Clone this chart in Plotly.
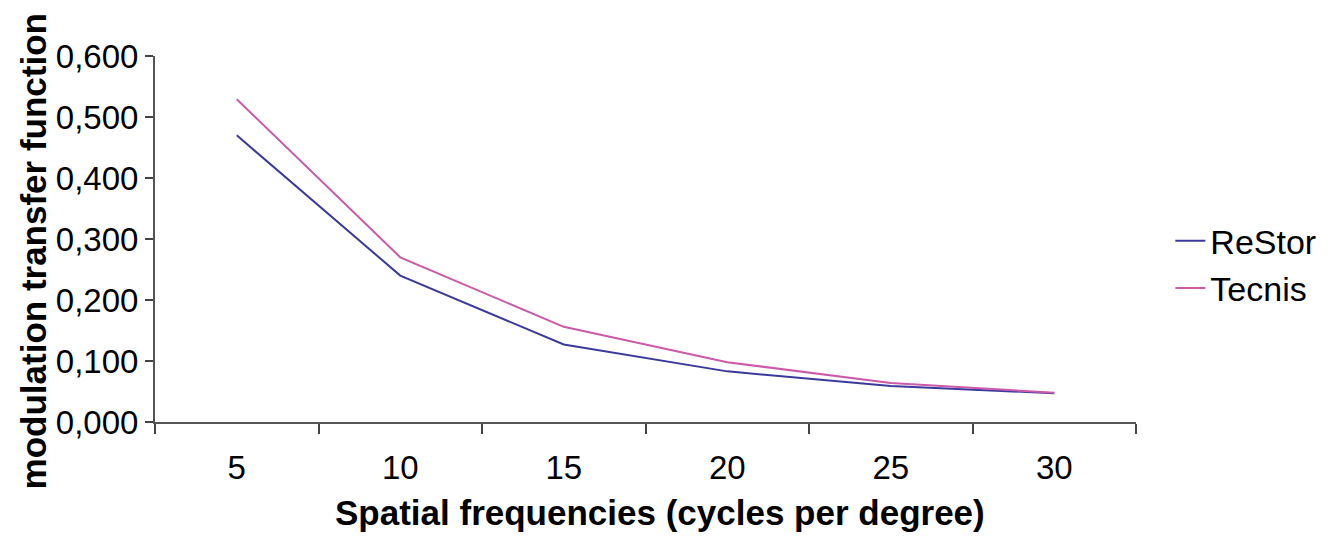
import plotly.graph_objects as go

# spatial frequencies (cycles per degree)
frequencies = ["5", "10", "15", "20", "25", "30"]

# modulation transfer function values
restor = [0.470, 0.240, 0.127, 0.083, 0.059, 0.047]
tecnis = [0.529, 0.270, 0.156, 0.098, 0.064, 0.048]

y_ticks = [0.0, 0.1, 0.2, 0.3, 0.4, 0.5, 0.6]

fig = go.Figure()
fig.add_trace(go.Scatter(x=frequencies, y=restor, name="ReStor", mode="lines",
                         line=dict(color="#3a3a9e", width=2)))
fig.add_trace(go.Scatter(x=frequencies, y=tecnis, name="Tecnis", mode="lines",
                         line=dict(color="#cc5aa8", width=2)))

# page body has an 8px margin, so margins are shifted by it
fig.update_layout(
    width=1340, height=539,
    margin=dict(l=147, r=212, t=48, b=125),
    plot_bgcolor="white", paper_bgcolor="white",
    separators=", ",
    font=dict(family="Liberation Sans, Arial", size=33, color="black"),
    showlegend=True,
    legend=dict(x=1.035, xanchor="left", y=0.43, yanchor="middle",
                font=dict(size=34), bgcolor="rgba(0,0,0,0)"),
)

fig.update_xaxes(
    type="category", range=[-0.5, len(frequencies) - 0.5],
    tickson="boundaries", ticks="outside", ticklen=10,
    tickwidth=2, tickcolor="#444", showline=True, linecolor="#555", linewidth=2,
    showgrid=False, zeroline=False, ticklabelstandoff=15,
)
fig.update_yaxes(
    range=[0, 0.6], tickvals=y_ticks, tickformat=".3f", ticks="outside",
    ticklen=8, tickwidth=2, tickcolor="#444", showline=True, linecolor="#555",
    linewidth=2, showgrid=False, zeroline=False, ticklabelstandoff=0,
)

# axis titles
fig.add_annotation(text="<b>Spatial frequencies (cycles per degree)</b>",
                   xref="paper", yref="paper", x=0.515, y=-0.246,
                   xanchor="center", yanchor="middle", showarrow=False,
                   font=dict(size=35))
fig.add_annotation(text="<b>modulation transfer function</b>",
                   xref="paper", yref="paper", x=-0.124, y=0.467,
                   xanchor="center", yanchor="middle", showarrow=False,
                   textangle=-90, font=dict(size=35))

fig.write_html("out.html")
